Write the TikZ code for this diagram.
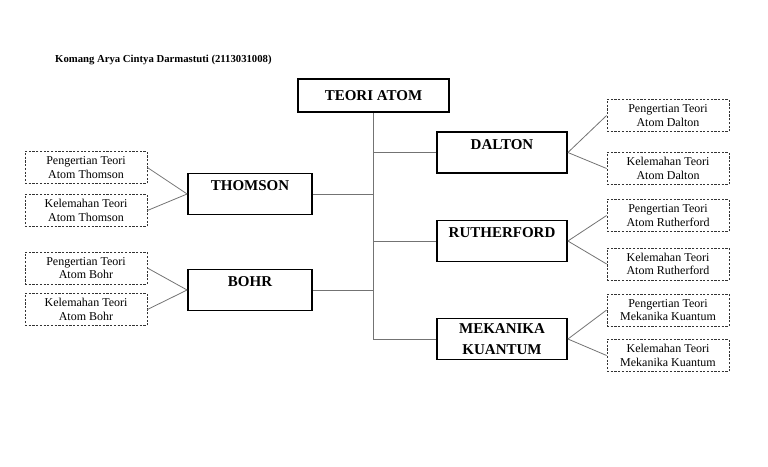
\documentclass[tikz,border=0pt]{standalone}
\usepackage{fontspec}
\setmainfont{Liberation Serif}
\usepackage{tikz}
\usetikzlibrary{arrows,shapes}
\tikzstyle{topic}=[draw,line width=2.8pt,minimum width=151pt,minimum height=33pt,inner sep=0pt,font=\bfseries\fontsize{15}{18}\selectfont]
\tikzstyle{theory}=[draw,line width=1.8pt,minimum width=130pt,minimum height=41pt,inner sep=0pt,align=center,font=\bfseries\fontsize{15}{21}\selectfont]
\tikzstyle{onerow}=[text height=17pt,text depth=24pt]
\tikzstyle{note}=[draw=black!80,dashed,line width=0.8pt,dash pattern=on 2.2pt off 1.5pt,minimum width=122pt,minimum height=32pt,inner sep=0pt,align=center,font=\fontsize{12}{13.5}\selectfont]
\tikzstyle{edge} = [draw,black!55,line width=0.8pt,-]

\begin{document}
\begin{tikzpicture}[x=1pt,y=-1pt]
        \useasboundingbox (0,0) rectangle (768,466);
        \node[anchor=west,inner sep=0pt,font=\bfseries\fontsize{10.7}{12}\selectfont] (name) at (55,60) {Komang Arya Cintya Darmastuti (2113031008)};
        \node[topic] (teori) at (373.5,95.5) {TEORI ATOM};
        \node[theory,onerow] (dalton) at (502,152.5) {DALTON};
        \node[theory,onerow] (rutherford) at (502,241) {RUTHERFORD};
        \node[theory] (mekanika) at (502,339) {MEKANIKA\\KUANTUM};
        \node[theory,onerow,minimum width=124pt] (thomson) at (250,194) {THOMSON};
        \node[theory,onerow,minimum width=124pt] (bohr) at (250,290) {BOHR};
        \node[note] (pthomson) at (86,167.5) {Pengertian Teori\\Atom Thomson};
        \node[note] (kthomson) at (86,210.5) {Kelemahan Teori\\Atom Thomson};
        \node[note] (pbohr) at (86,268) {Pengertian Teori\\Atom Bohr};
        \node[note] (kbohr) at (86,309.5) {Kelemahan Teori\\Atom Bohr};
        \node[note] (pdalton) at (668,115.5) {Pengertian Teori\\Atom Dalton};
        \node[note] (kdalton) at (668,168.5) {Kelemahan Teori\\Atom Dalton};
        \node[note] (prutherford) at (668,215.5) {Pengertian Teori\\Atom Rutherford};
        \node[note] (krutherford) at (668,264) {Kelemahan Teori\\Atom Rutherford};
        \node[note] (pmekanika) at (668,310) {Pengertian Teori\\Mekanika Kuantum};
        \node[note] (kmekanika) at (668,355.5) {Kelemahan Teori\\Mekanika Kuantum};
        \draw[edge] (teori.south) |- (mekanika.west);
        \draw[edge] (teori.south |- dalton.west) -- (dalton.west);
        \draw[edge] (teori.south |- rutherford.west) -- (rutherford.west);
        \draw[edge] (teori.south |- thomson.east) -- (thomson.east);
        \draw[edge] (teori.south |- bohr.east) -- (bohr.east);
        \draw[edge] (thomson.west) to (pthomson.east);
        \draw[edge] (thomson.west) to (kthomson.east);
        \draw[edge] (bohr.west) to (pbohr.east);
        \draw[edge] (bohr.west) to (kbohr.east);
        \draw[edge] (dalton.east) to (pdalton.west);
        \draw[edge] (dalton.east) to (kdalton.west);
        \draw[edge] (rutherford.east) to (prutherford.west);
        \draw[edge] (rutherford.east) to (krutherford.west);
        \draw[edge] (mekanika.east) to (pmekanika.west);
        \draw[edge] (mekanika.east) to (kmekanika.west);
      \end{tikzpicture}
\end{document}
